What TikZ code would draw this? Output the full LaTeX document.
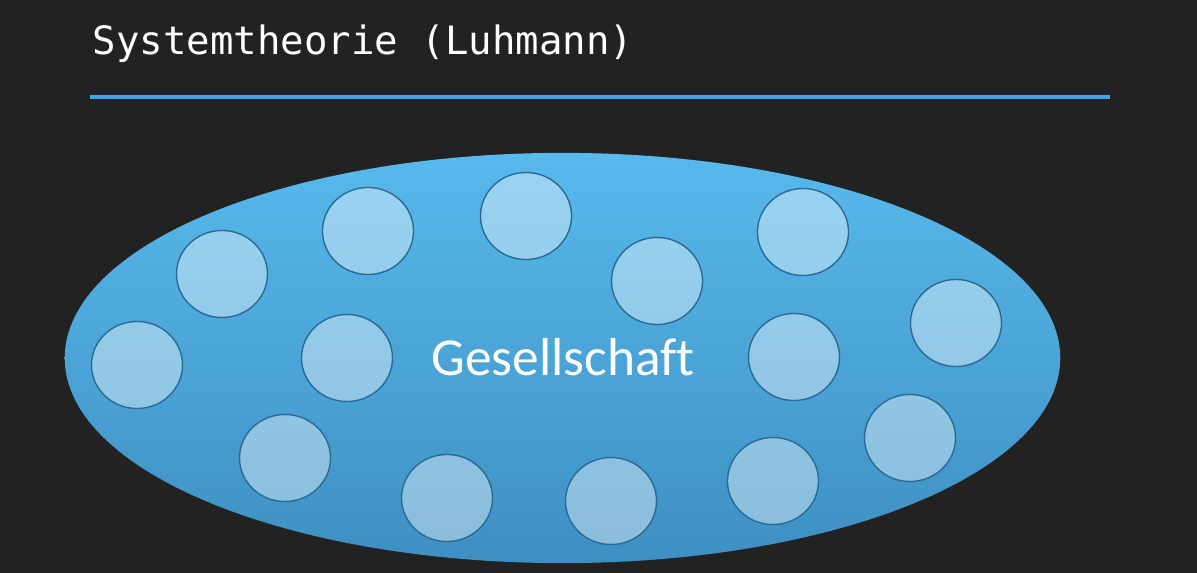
\documentclass[tikz,border=0pt]{standalone}
\usepackage{fontspec}
\usetikzlibrary{shapes.geometric}
\newfontfamily\titlefont{DejaVu Sans Mono}
\newfontfamily\bodyfont[Ligatures=NoCommon]{Carlito}
\definecolor{board}{HTML}{222222}
\definecolor{chalkblue}{HTML}{3BA7E3}
\definecolor{gestop}{HTML}{58B9EC}
\definecolor{gesbottom}{HTML}{3E8FC3}
\definecolor{sysline}{HTML}{2A6A94}
\tikzset{
	subsystem/.style={ellipse, minimum width=0.91cm, minimum height=0.87cm, inner sep=0pt,
		draw=sysline, line width=0.4pt, fill=white, fill opacity=0.4, draw opacity=1}
}
\begin{document}
\begin{tikzpicture}[x=0.01cm, y=-0.01cm]
		\fill[board] (0,0) rectangle (1197,573);
		\node[anchor=base west, text=white, font=\titlefont\fontsize{11.1}{13}\selectfont, inner sep=0pt] (title) at (92,55) {Systemtheorie (Luhmann)};
		\draw[chalkblue, line width=0.9pt] (90,97) -- (1110,97);
		% society
		\node[ellipse, minimum width=9.95cm, minimum height=4.1cm, inner sep=0pt, top color=gestop, bottom color=gesbottom] (gesellschaft) at (562.5,358) {};
		\foreach \n/\x/\y in {s1/137/365, s2/222/274, s3/368/231, s4/526/216, s5/657/281, s6/803/232, s7/956/323,
			s8/347/358, s9/794/357, s10/285/458, s11/447/498, s12/611/501, s13/773/481, s14/910/438}
		{
			\node[subsystem] (\n) at (\x,\y) {};
		}
		\node[anchor=base, text=white, font=\bodyfont\fontsize{15.2}{18}\selectfont, inner sep=0pt] (gesellschafttext) at (563,375) {Gesellschaft};
	\end{tikzpicture}
\end{document}
